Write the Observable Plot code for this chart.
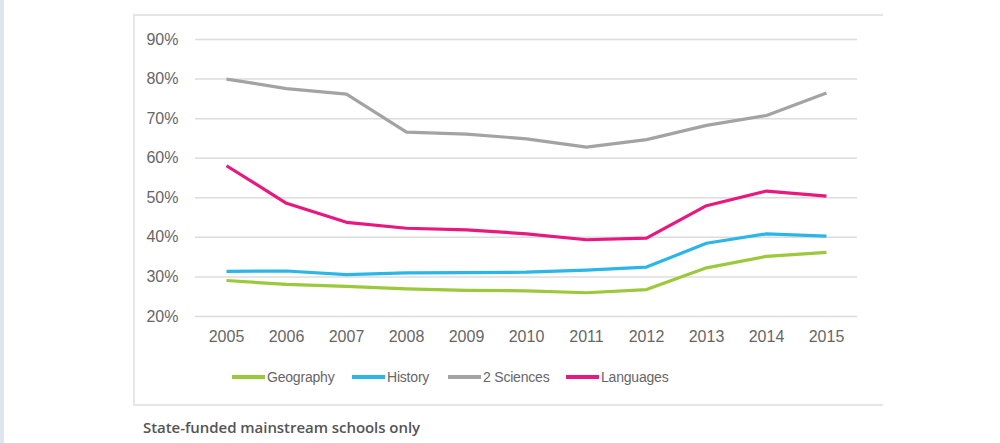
<!DOCTYPE html>
<html>
<head>
<meta charset="utf-8">
<script src="https://cdn.jsdelivr.net/npm/d3@7"></script>
<script src="https://cdn.jsdelivr.net/npm/@observablehq/plot@0.6"></script>
<style>
  html, body { margin: 0; padding: 0; background: #fff; }
  body { width: 1000px; height: 443px; position: relative; overflow: hidden; font-family: "Liberation Sans", Arial, sans-serif; }
  #strip { position: absolute; left: 0; top: 0; width: 4px; height: 443px; background: #dde6ee; }
  #frame { position: absolute; left: 133px; top: 14px; width: 750px; height: 392px;
           border-top: 2px solid #e6e6e6; border-left: 2px solid #e6e6e6; border-bottom: 2px solid #e6e6e6; box-sizing: border-box; }
  #chart { position: absolute; left: 133px; top: 14px; }
  #legend { position: absolute; left: 232px; top: 369px; display: flex; align-items: center; font-size: 14px; color: #666; letter-spacing: -0.2px; }
  #legend .item { display: flex; align-items: center; }
  #legend svg { display: block; margin-right: 2px; }
  #caption { position: absolute; left: 143px; top: 417px; font-family: "Open Sans", sans-serif; font-weight: 600; font-size: 15px; color: #555; letter-spacing: -0.05px; }
</style>
</head>
<body>
<div id="strip"></div>
<div id="frame"></div>
<div id="chart"></div>
<div id="legend"></div>
<div id="caption">State-funded mainstream schools only</div>
<script>
// Share of pupils entering each subject group, 2005–2015 (%)
const years = [2005, 2006, 2007, 2008, 2009, 2010, 2011, 2012, 2013, 2014, 2015];
const geography = [29.1, 28.1, 27.6, 27.0, 26.6, 26.5, 26.0, 26.8, 32.3, 35.2, 36.2];
const history   = [31.4, 31.5, 30.6, 31.0, 31.1, 31.2, 31.7, 32.5, 38.5, 40.9, 40.3];
const sciences  = [80.0, 77.6, 76.2, 66.6, 66.1, 64.9, 62.8, 64.7, 68.3, 70.8, 76.5];
const languages = [58.1, 48.6, 43.8, 42.3, 41.9, 40.9, 39.4, 39.8, 48.0, 51.7, 50.4];

const seriesNames = ["Geography", "History", "2 Sciences", "Languages"];
const seriesColors = ["#9cc83c", "#2cb6e8", "#a3a3a3", "#e8187f"];
const yTicks = [20, 30, 40, 50, 60, 70, 80, 90];

const seriesValues = [geography, history, sciences, languages];
const rows = seriesNames.flatMap((name, i) =>
  years.map((year, j) => ({ series: name, year: String(year), value: seriesValues[i][j] }))
);

const chart = Plot.plot({
  width: 750,
  height: 342,
  marginLeft: 62,
  marginRight: 26,
  marginTop: 25,
  marginBottom: 40,
  style: { fontFamily: "'Liberation Sans', Arial, sans-serif", fontSize: "16px", color: "#666", background: "transparent" },
  x: { type: "point", domain: years.map(String), padding: 0.5, label: null },
  y: { domain: [20, 90], label: null },
  color: { domain: seriesNames, range: seriesColors },
  marks: [
    Plot.gridY(yTicks, { stroke: "#dcdcdc", strokeOpacity: 1, strokeWidth: 1.5 }),
    Plot.axisY(yTicks, { tickSize: 0, tickPadding: 17, tickFormat: d => d + "%", fill: "#666", fontSize: 16 }),
    Plot.axisX({ tickSize: 0, tickPadding: 14, fill: "#666", fontSize: 16 }),
    Plot.line(rows, { x: "year", y: "value", z: "series", stroke: "series", strokeWidth: 3.2, strokeLinejoin: "round", strokeLinecap: "butt" })
  ]
});
document.getElementById("chart").appendChild(chart);

// Legend: short line swatch followed by the series name, each item in a fixed-width slot
const legend = document.getElementById("legend");
const legendSlots = [120, 96, 118, 110];
seriesNames.forEach((name, i) => {
  const item = document.createElement("div");
  item.className = "item";
  item.style.width = legendSlots[i] + "px";
  item.innerHTML = `<svg width="33" height="6"><line x1="0" y1="3" x2="33" y2="3" stroke="${seriesColors[i]}" stroke-width="4"/></svg><span>${name}</span>`;
  legend.appendChild(item);
});
</script>
</body>
</html>
